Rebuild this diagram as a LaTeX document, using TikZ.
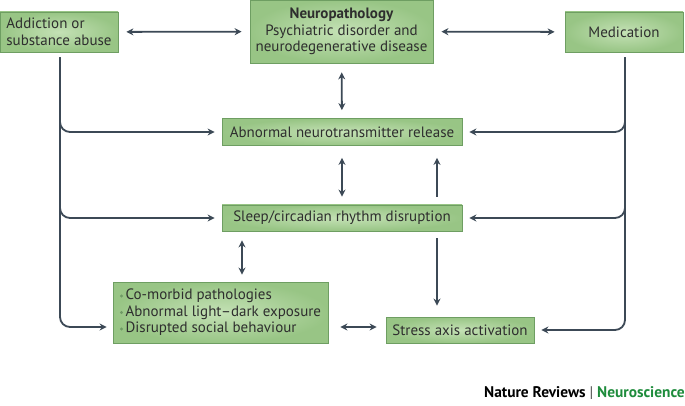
\documentclass[tikz,border=0pt]{standalone}
\usepackage{fontspec}
\setmainfont{PT Sans}
\usetikzlibrary{arrows.meta,calc}
\definecolor{boxouter}{HTML}{98C585}
\definecolor{boxinner}{HTML}{C4E1B5}
\definecolor{boxborder}{HTML}{6E9E62}
\definecolor{arrcol}{HTML}{3C4956}
\definecolor{txtcol}{HTML}{2E2E2E}
\definecolor{nrgreen}{HTML}{1E8C3C}
\definecolor{bulcol}{HTML}{6F9A65}
\newcommand{\mybul}{\tikz[baseline=-3.8pt]\fill[bulcol] (0,0) circle (1.6pt);\,}
\begin{document}
\begin{tikzpicture}[x=1pt,y=-1pt,
  gbox/.style={rectangle, draw=boxborder, line width=0.8pt, inner color=boxinner, outer color=boxouter,
    text=txtcol, font=\fontsize{15}{16.5}\selectfont, inner sep=0pt},
  arr/.style={draw=arrcol, line width=1.8pt, -{Stealth[length=7pt,width=7pt]}},
  dbl/.style={draw=arrcol, line width=1.8pt, {Stealth[length=7pt,width=7pt]}-{Stealth[length=7pt,width=7pt]}},
]
\useasboundingbox (0,0) rectangle (685,406);
\fill[white] (0,0) rectangle (685,406);

\node[gbox, minimum width=118pt, minimum height=40pt, align=left] (add) at (59,32) {Addiction or\\substance abuse};
\node[gbox, minimum width=183pt, minimum height=63pt, align=center] (neuro) at (341.5,31.5) {\textbf{Neuropathology}\\Psychiatric disorder and\\neurodegenerative disease};
\node[gbox, minimum width=118pt, minimum height=40pt] (med) at (624,32) {Medication};
\node[gbox, minimum width=240pt, minimum height=27pt] (abn) at (342,132) {Abnormal neurotransmitter release};
\node[gbox, minimum width=240pt, minimum height=26pt] (slp) at (342,218) {Sleep/circadian rhythm disruption};
\node[gbox, minimum width=215pt, minimum height=61pt, align=left] (com) at (220.5,312.5)
  {\mybul Co-morbid pathologies\\\mybul Abnormal light--dark exposure\\\mybul Disrupted social behaviour};
\node[gbox, minimum width=148pt, minimum height=26pt] (str) at (460,330) {Stress axis activation};

% top row
\draw[dbl, shorten <=8pt, shorten >=8pt] (add) -- (neuro);
\draw[dbl, shorten <=8pt, shorten >=10pt] (neuro) -- (med);
% verticals
\draw[dbl, shorten <=9pt, shorten >=8pt] (neuro) -- (abn);
\draw[dbl, shorten <=12pt, shorten >=8pt] (abn) -- (slp);
\draw[arr, shorten <=8pt, shorten >=12pt] ([xshift=95pt]slp.north) -- ([xshift=95pt]abn.south);
\coordinate (strtop) at ($(str.north)+(-23,0)$);
\draw[arr, shorten <=7pt, shorten >=11pt] ([xshift=95pt]slp.south) -- (strtop);
\coordinate (comtop) at ($(com.north)+(21.5,0)$);
\draw[dbl, shorten <=9pt, shorten >=7pt] ([xshift=-100pt]slp.south) -- (comtop);
\coordinate (comr) at ($(com.east |- str.west)+(0,-3)$);
\coordinate (strl) at ($(str.west)+(0,-3)$);
\draw[dbl, shorten <=12pt, shorten >=9pt] (comr) -- (strl);

% left feeder
\coordinate (addb) at ($(add.south)+(1,5)$);
\coordinate (coml) at ($(com.west |- str.west)+(0,-3)$);
\draw[arr, rounded corners=10pt, shorten >=7pt] (addb) |- (abn.west);
\draw[arr, rounded corners=10pt, shorten >=7pt] (addb) |- (slp.west);
\draw[arr, rounded corners=10pt, shorten >=6pt] (addb) |- (coml);
% right feeder
\coordinate (medb) at ($(med.south)+(1,5)$);
\draw[arr, rounded corners=10pt, shorten >=7pt] (medb) |- (abn.east);
\draw[arr, rounded corners=10pt, shorten >=7pt] (medb) |- (slp.east);
\draw[arr, rounded corners=10pt, shorten >=7pt] (medb) |- (str.east);

\node[anchor=east, inner sep=0pt, font=\fontsize{15.4}{17}\selectfont\bfseries] (credit) at (685,393)
  {\color{black}Nature Reviews {\mdseries\color{black!70}|} \color{nrgreen}Neuroscience};
\end{tikzpicture}
\end{document}
